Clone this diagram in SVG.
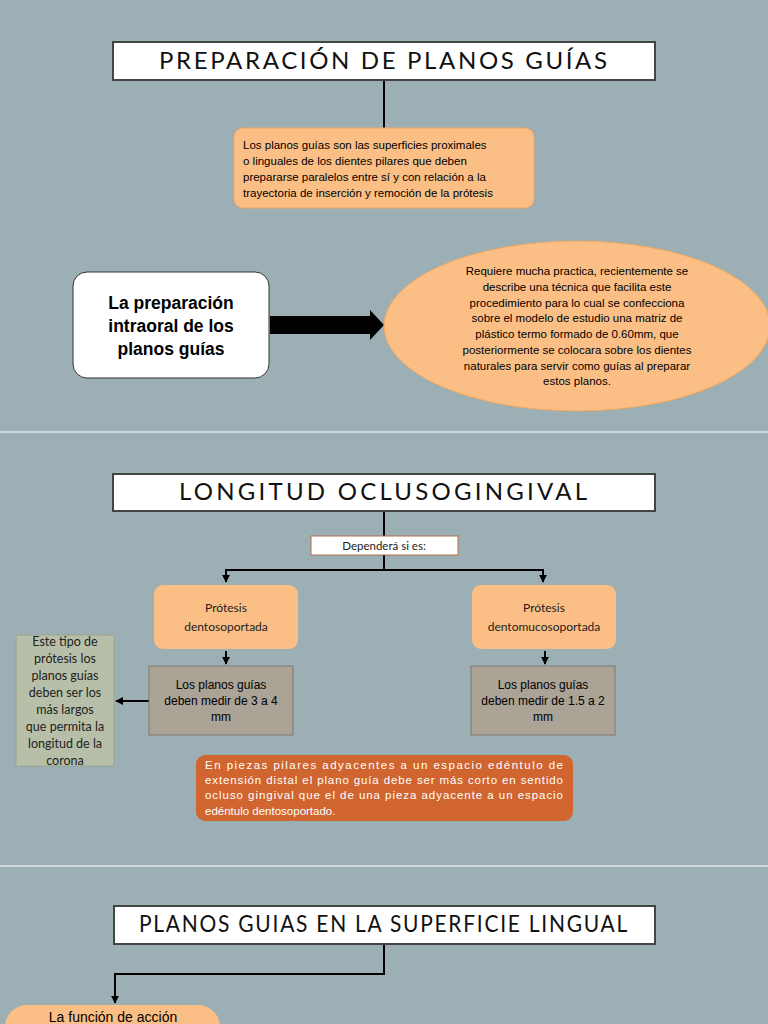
<svg xmlns="http://www.w3.org/2000/svg" width="768" height="1024" viewBox="0 0 768 1024">
<defs>
<style>
.t{font-family:"Liberation Sans",Arial,sans-serif;fill:#000}
.h{font-family:"Lato","Open Sans",sans-serif;font-size:24px;letter-spacing:2px;fill:#111;text-anchor:middle}
.title{fill:#fff;stroke:#444;stroke-width:2}
.c{fill:none;stroke:#000;stroke-width:2}
.g{font-family:"Lato","Open Sans",sans-serif;fill:#222;text-anchor:middle}
</style>
<marker id="a" viewBox="0 0 10 10" refX="9" refY="5" markerWidth="4" markerHeight="4" orient="auto"><path d="M0,0L10,5L0,10z" fill="#000"/></marker>
</defs>
<rect width="768" height="1024" fill="#9cafb5"/>
<line x1="0" y1="432" x2="768" y2="432" stroke="#dfe6e8" stroke-width="1.5"/>
<line x1="0" y1="866" x2="768" y2="866" stroke="#dfe6e8" stroke-width="1.5"/>

<g id="connectors">
<line class="c" x1="384" y1="80" x2="384" y2="128"/>
<polygon points="270,316 370,316 370,310 384,325 370,340 370,334 270,334" fill="#000"/>
<line class="c" x1="384" y1="511" x2="384" y2="536"/>
<path class="c" d="M384,555V570H226V582" marker-end="url(#a)"/>
<path class="c" d="M384,570H543V582" marker-end="url(#a)"/>
<line class="c" x1="226" y1="651" x2="226" y2="664" marker-end="url(#a)"/>
<line class="c" x1="545" y1="651" x2="545" y2="664" marker-end="url(#a)"/>
<line class="c" x1="149" y1="701" x2="116" y2="701" marker-end="url(#a)"/>
<path class="c" d="M384,945V974H115V1003" marker-end="url(#a)"/>
</g>

<g id="title1"><rect class="title" x="113" y="42" width="542" height="38"/><text class="h" x="384" y="69" textLength="450">PREPARACIÓN DE PLANOS GUÍAS</text></g>
<g id="def"><rect x="234" y="128" width="300" height="80" rx="9" fill="#fbbf85" stroke="#f0a860"/>
<text class="t" font-size="11.5" x="243" y="149">Los planos guías son las superficies proximales</text>
<text class="t" font-size="11.5" x="243" y="165">o linguales de los dientes pilares que deben</text>
<text class="t" font-size="11.5" x="243" y="181">prepararse paralelos entre sí y con relación a la</text>
<text class="t" font-size="11.5" x="243" y="197">trayectoria de inserción y remoción de la prótesis</text></g>
<g id="intra"><rect x="73" y="272" width="196" height="106" rx="14" fill="#fff" stroke="#333"/>
<text class="t" font-size="17.5" font-weight="bold" text-anchor="middle" x="171" y="309">La preparación</text>
<text class="t" font-size="17.5" font-weight="bold" text-anchor="middle" x="171" y="332">intraoral de los</text>
<text class="t" font-size="17.5" font-weight="bold" text-anchor="middle" x="171" y="355">planos guías</text></g>
<g id="req"><ellipse cx="577" cy="326" rx="193" ry="85" fill="#fbbf85" stroke="#f0a860"/>
<g class="t" font-size="11.5" text-anchor="middle">
<text x="577" y="275">Requiere mucha practica, recientemente se</text>
<text x="577" y="291">describe una técnica que facilita este</text>
<text x="577" y="307">procedimiento para lo cual se confecciona</text>
<text x="577" y="322">sobre el modelo de estudio una matriz de</text>
<text x="577" y="338">plástico termo formado de 0.60mm, que</text>
<text x="577" y="354">posteriormente se colocara sobre los dientes</text>
<text x="577" y="370">naturales para servir como guías al preparar</text>
<text x="577" y="385">estos planos.</text></g></g>

<g id="title2"><rect class="title" x="113" y="474" width="542" height="37"/><text class="h" x="384" y="500" textLength="410">LONGITUD OCLUSOGINGIVAL</text></g>
<g id="dep"><rect x="311" y="536" width="147" height="19" fill="#fff" stroke="#b0704a"/><text class="g" font-size="11.5" x="384" y="550">Dependerá si es:</text></g>
<g id="p1"><rect x="154" y="585" width="144" height="64" rx="9" fill="#fbbf85"/><text class="g" font-size="12" x="226" y="612">Prótesis</text><text class="g" font-size="12" x="226" y="631">dentosoportada</text></g>
<g id="p2"><rect x="472" y="585" width="144" height="64" rx="9" fill="#fbbf85"/><text class="g" font-size="12" x="544" y="612">Prótesis</text><text class="g" font-size="12" x="544" y="631">dentomucosoportada</text></g>
<g id="m1"><rect x="149" y="666" width="144" height="69" fill="#aaa396" stroke="#7e786d"/>
<g class="t" font-size="12" text-anchor="middle"><text x="221" y="689">Los planos guías</text><text x="221" y="705">deben medir de 3 a 4</text><text x="221" y="721">mm</text></g></g>
<g id="m2"><rect x="471" y="666" width="144" height="69" fill="#aaa396" stroke="#7e786d"/>
<g class="t" font-size="12" text-anchor="middle"><text x="543" y="689">Los planos guías</text><text x="543" y="705">deben medir de 1.5 a 2</text><text x="543" y="721">mm</text></g></g>
<g id="este"><rect x="16" y="635" width="98" height="131" fill="#b7bfa8" stroke="#9aa38c"/>
<g class="g" font-size="12.5"><text x="65" y="646">Este tipo de</text><text x="65" y="663">prótesis los</text><text x="65" y="680">planos guías</text><text x="65" y="697">deben ser los</text><text x="65" y="714">más largos</text><text x="65" y="731">que permita la</text><text x="65" y="748">longitud de la</text><text x="65" y="765">corona</text></g></g>
<g id="piezas"><rect x="196" y="755" width="377" height="66" rx="9" fill="#d0652f"/>
<g font-family="Liberation Sans,Arial,sans-serif" font-size="11.5" fill="#fff"><text x="205" y="769" textLength="358">En piezas pilares adyacentes a un espacio edéntulo de</text><text x="205" y="784" textLength="358">extensión distal el plano guía debe ser más corto en sentido</text><text x="205" y="799" textLength="358">ocluso gingival que el de una pieza adyacente a un espacio</text><text x="205" y="815">edéntulo dentosoportado.</text></g></g>

<g id="title3"><rect class="title" x="114" y="906" width="541" height="38"/><text class="h" x="384" y="932" font-size="21" textLength="490" lengthAdjust="spacingAndGlyphs">PLANOS GUIAS EN LA SUPERFICIE LINGUAL</text></g>
<g id="func"><rect x="5" y="1005" width="215" height="60" rx="22" fill="#fbbf85"/><text class="t" font-size="14" text-anchor="middle" x="113" y="1022">La función de acción</text></g>
</svg>
